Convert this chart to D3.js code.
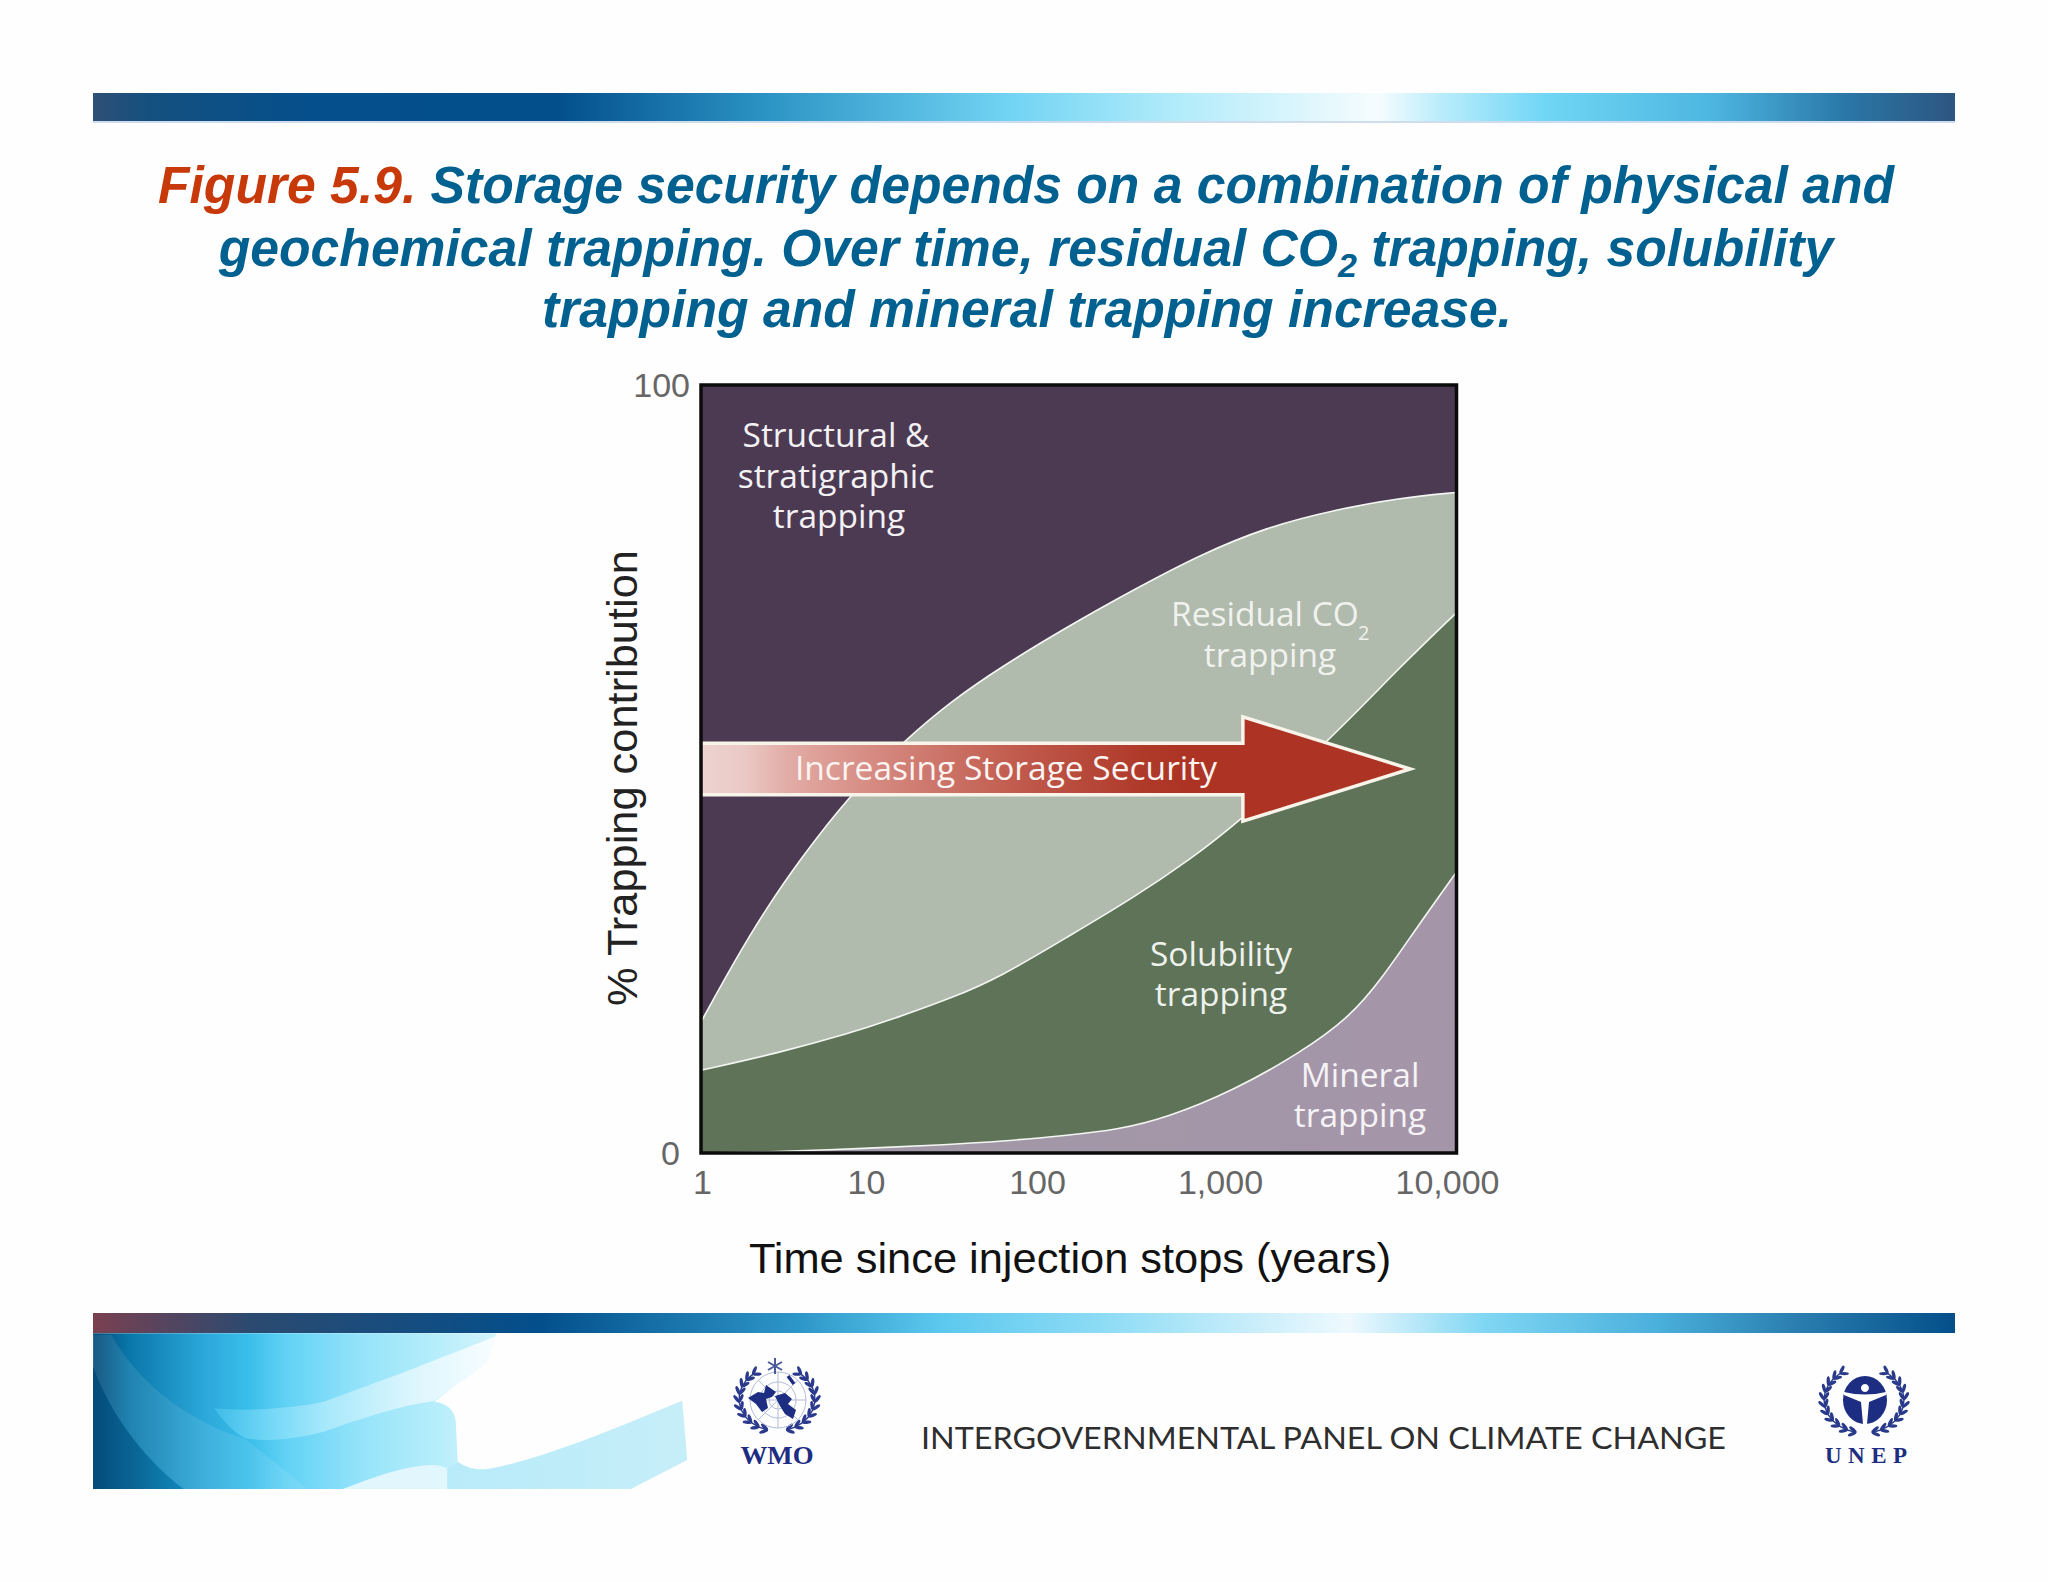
<!DOCTYPE html>
<html><head><meta charset="utf-8">
<script src="https://cdn.jsdelivr.net/npm/d3@7"></script>
<style>html,body{margin:0;padding:0;background:#fefefe}svg{display:block}</style>
</head><body><svg id="c" width="2048" height="1582"></svg>
<script>
// ---- data ----
const xTicks = [1, 10, 100, 1000, 10000];
const yTicks = [0, 100];
const residualTopYears = [1, 1.55, 2.49, 3.96, 7.66, 16.9, 32.3, 60.8, 146, 335, 778, 1580, 3010, 5790, 10000];
const residualTopPct   = [17.3, 24.7, 32, 38.2, 46.2, 53.8, 59, 63.2, 68.5, 73.3, 77.9, 81.5, 83.7, 85.3, 86];
const solubilityTopYears = [1, 2.9, 8, 13.8, 32, 60.8, 146, 335, 685, 1190, 2930, 5790, 10000];
const solubilityTopPct   = [10.8, 13, 15.6, 17.3, 20.2, 22.9, 28.1, 33.2, 38.2, 43, 53.8, 63.3, 70.3];
const mineralTopYears = [1, 2.3, 10.3, 30, 60.8, 146, 273, 514, 1135, 2180, 3560, 4900, 6840, 10000];
const mineralTopPct   = [0, 0.1, 0.6, 1.1, 1.5, 2.3, 3, 4.6, 8.1, 13, 17.7, 22.9, 29.4, 36.5];
const arrowYears = [1, 1250, 1250, 6400, 1250, 1250, 1];
const arrowPct   = [53.35, 53.35, 56.8, 50, 43.2, 46.65, 46.65];

const svg = d3.select("#c");
const defs = svg.append("defs");
function grad(id, stops, x1=0, x2=1){
  const g = defs.append("linearGradient").attr("id", id).attr("x1", x1).attr("x2", x2).attr("y1",0).attr("y2",0);
  stops.forEach(s => g.append("stop").attr("offset", s[0]).attr("stop-color", s[1]));
}
svg.append("rect").attr("width",2048).attr("height",1582).attr("fill","#fefefe");

// ---- header and footer bands ----
grad("topBar", [[0,"#2f4f76"],[0.03,"#14507f"],[0.12,"#044f8c"],[0.25,"#034f8c"],[0.36,"#2b93c4"],[0.49,"#70d3f3"],[0.58,"#b0ebfa"],[0.69,"#f6fcfe"],[0.725,"#b8ecfb"],[0.78,"#70d6f5"],[0.87,"#4db6e0"],[0.94,"#2a78a8"],[1,"#2d5580"]]);
grad("lowBar", [[0,"#7a4050"],[0.085,"#2b4a70"],[0.24,"#034f8c"],[0.378,"#2d96c8"],[0.455,"#5cc8ee"],[0.544,"#8edcf5"],[0.674,"#eef9fe"],[0.748,"#7fd6f3"],[0.84,"#4ab0dc"],[0.914,"#2a7fb0"],[1,"#044f8a"]]);
svg.append("rect").attr("x",93).attr("y",93).attr("width",1862).attr("height",28).attr("fill","url(#topBar)");
svg.append("rect").attr("x",93).attr("y",121).attr("width",1862).attr("height",2).attr("fill","#cfdcec");
svg.append("rect").attr("x",93).attr("y",1313).attr("width",1862).attr("height",20).attr("fill","url(#lowBar)");

grad("bandBody", [[0,"#034a78"],[0.09,"#0a77aa"],[0.28,"#2ca9da"],[0.38,"#38bdea"],[0.48,"#62d2f5"],[0.67,"#96e4fa"],[0.86,"#b8eefb"],[1,"#d4f4fc"]]);
grad("bandSwoosh", [[0,"#3fbdea"],[0.2,"#74d8f7"],[0.4,"#a8e9fb"],[0.7,"#dcf6fd"],[1,"#f8fdff"]]);
grad("bandRight", [[0,"#b8ebf9"],[1,"#c6eef9"]]);
grad("bandCorner", [[0,"#034a78"],[1,"#1187b9"]]);
const band = svg.append("g").attr("transform","translate(90,1330) scale(0.3891,0.3333)");
band.append("path").attr("fill","url(#bandBody)")
  .attr("d","M8,10 L1045,10 L1000,110 L885,215 Q935,222 940,275 L945,395 L918,412 L918,477 L650,477 L8,477 Z");
band.append("path").attr("fill","#ffffff").attr("opacity",0.09)
  .attr("d","M8,15 L55,15 C110,130 220,260 400,328 L560,477 L240,477 C120,370 40,220 8,110 Z");
band.append("path").attr("fill","url(#bandCorner)")
  .attr("d","M8,110 C40,220 120,370 240,477 L8,477 Z");
band.append("path").attr("fill","url(#bandSwoosh)")
  .attr("d","M320,235 C400,245 520,235 600,215 L800,130 L1045,18 L1020,100 L885,213 C800,225 700,265 600,305 C520,330 440,335 400,325 C370,310 340,270 320,235 Z");
band.append("path").attr("fill","#e2f7fd")
  .attr("d","M650,477 C730,440 820,405 880,405 Q918,408 918,420 L918,477 Z");
band.append("path").attr("fill","url(#bandRight)")
  .attr("d","M918,477 L918,412 L945,395 Q975,420 1015,418 C1150,395 1380,280 1522,212 L1535,390 L1390,477 Z");

// ---- title ----
const title = svg.append("g").attr("font-family","'Liberation Sans'").attr("font-weight",700).attr("font-style","italic").attr("font-size",51.65).attr("text-anchor","middle");
const l1 = title.append("text").attr("x",1026).attr("y",203);
l1.append("tspan").attr("fill","#c8390a").text("Figure 5.9. ");
l1.append("tspan").attr("fill","#00608f").text("Storage security depends on a combination of physical and");
const l2 = title.append("text").attr("x",1026).attr("y",266).attr("fill","#00608f");
l2.append("tspan").text("geochemical trapping. Over time, residual CO");
l2.append("tspan").attr("font-size",34).attr("dy",11).text("2");
l2.append("tspan").attr("dy",-11).text(" trapping, solubility");
title.append("text").attr("x",1027).attr("y",327).attr("fill","#00608f").text("trapping and mineral trapping increase.");

// ---- scales ----
const L = 702, R = 1456, T = 385, B = 1153;
const x = d3.scaleLog().domain(xTicks).range([L, 866, 1037, 1220, R]);
const y = d3.scaleLinear().domain([0,100]).range([B,T]);

// ---- stacked regions ----
defs.append("clipPath").attr("id","plot").append("rect").attr("x",L-2).attr("y",T).attr("width",R-L+2).attr("height",B-T);
const plot = svg.append("g").attr("clip-path","url(#plot)");
plot.append("rect").attr("x",L-2).attr("y",T).attr("width",R-L+2).attr("height",B-T).attr("fill","#4b3a52");
grad("mineralFill", [[0,"#9f99a6"],[1,"#a595a9"]]);
const curve = d3.curveBasis;
const area = d3.area().x(d=>x(d[0])).y0(B).y1(d=>y(d[1])).curve(curve);
const line = d3.line().x(d=>x(d[0])).y(d=>y(d[1])).curve(curve);
[[residualTopYears,residualTopPct,"#b0baad"],
 [solubilityTopYears,solubilityTopPct,"#5f7358"],
 [mineralTopYears,mineralTopPct,"url(#mineralFill)"]].forEach(([ys,ps,col])=>{
  const pts = d3.zip(ys,ps);
  plot.append("path").datum(pts).attr("d",area).attr("fill",col);
  plot.append("path").datum(pts).attr("d",line).attr("fill","none").attr("stroke","#f4f6f2").attr("stroke-width",1.6);
});

// ---- arrow ----
grad("arrowFill", [[0,"#ecd3d0"],[0.06,"#eac9c5"],[0.12,"#e2aca6"],[0.25,"#d5887f"],[0.45,"#c05a4c"],[0.62,"#af3a2a"],[0.68,"#ad3424"],[1,"#ad3424"]]);
const arrowLine = d3.line().x(d=>x(d[0])).y(d=>y(d[1]));
plot.append("path").datum(d3.zip(arrowYears,arrowPct)).attr("d",arrowLine)
  .attr("fill","url(#arrowFill)").attr("stroke","#f8f4ea").attr("stroke-width",3.5);

// ---- frame and axes ----
svg.append("rect").attr("x",L-1).attr("y",T).attr("width",R-L+1.5).attr("height",B-T).attr("fill","none").attr("stroke","#0c0c0c").attr("stroke-width",3.5);
const axX = svg.append("g").attr("transform",`translate(0,${B})`)
  .call(d3.axisBottom(x).tickValues(xTicks).tickFormat(d3.format(",")).tickSize(0));
const axY = svg.append("g").attr("transform",`translate(${L},0)`)
  .call(d3.axisLeft(y).tickValues(yTicks).tickSize(0));
[axX,axY].forEach(a=>{a.select(".domain").remove();
  a.selectAll("text").attr("font-family","'Liberation Sans'").attr("font-size",34).attr("fill","#666666");});
axX.selectAll("text").attr("dy",null).attr("y",41).attr("dx",d=>d===10000?-9:0);
axY.selectAll("text").attr("x",d=>d===0?-22:-12).attr("dy",".35em");

svg.append("text").attr("x",1070).attr("y",1273).attr("text-anchor","middle")
  .attr("font-family","'Liberation Sans'").attr("font-size",43.4).attr("fill","#111").text("Time since injection stops (years)");
svg.append("text").attr("transform","translate(637,778) rotate(-90)").attr("text-anchor","middle")
  .attr("font-family","'Liberation Sans'").attr("font-size",43.4).attr("fill","#222").text("% Trapping contribution");

// ---- region labels ----
function label(lines, fill){
  lines.forEach(([t,px,py])=>svg.append("text").attr("x",px).attr("y",py).attr("text-anchor","middle")
    .attr("font-family","'Open Sans'").attr("font-size",33.5).attr("fill",fill).text(t));
}
label([["Structural &",836,447],["stratigraphic",836,488],["trapping",839,528]],"#f3f1f4");
label([["Residual CO",1265,626],["trapping",1270,667]],"#f0f2ee");
svg.append("text").attr("x",1358).attr("y",640).attr("font-family","'Open Sans'").attr("font-size",20).attr("fill","#f0f2ee").text("2");
label([["Increasing Storage Security",1006,780]],"#fbf4f2");
label([["Solubility",1221,966],["trapping",1221,1006]],"#eef2ec");
label([["Mineral",1360,1087],["trapping",1360,1127]],"#f5f3f6");

// ---- emblems ----
const navy = "#1d2d82";
function wreath(cx,cy,rx,ry,a0,a1,n,col){
  const g = svg.append("g");
  [-1,1].forEach(s=>{
    const pts = d3.range(n+1).map(i=>a0+(a1-a0)*i/n);
    g.append("path").attr("fill","none").attr("stroke",col).attr("stroke-width",1.4)
      .attr("d",d3.line()(pts.map(a=>[cx+s*rx*Math.sin(a),cy+ry*Math.cos(a)])));
    pts.forEach(a=>{
      const px = cx+s*rx*Math.sin(a), py = cy+ry*Math.cos(a);
      const ang = Math.atan2(-ry*Math.sin(a), s*rx*Math.cos(a))*180/Math.PI;
      [-32,32].forEach(o=>{
        const r=(ang+o)*Math.PI/180;
        g.append("ellipse").attr("cx",px+4.2*Math.cos(r)).attr("cy",py+4.2*Math.sin(r))
         .attr("rx",4.6).attr("ry",1.7).attr("fill",col)
         .attr("transform",`rotate(${ang+o} ${px+4.2*Math.cos(r)} ${py+4.2*Math.sin(r)})`);
      });
    });
  });
}
// WMO
wreath(777,1399,38,32,0.25,2.45,9,"#2b3a8c");
const gl = svg.append("g").attr("fill","none").attr("stroke","#b4bbd8").attr("stroke-width",1);
[9,18,28].forEach(r=>gl.append("circle").attr("cx",778).attr("cy",1400).attr("r",r));
d3.range(8).forEach(i=>{const a=i*Math.PI/4;
  gl.append("line").attr("x1",778).attr("y1",1400).attr("x2",778+28*Math.cos(a)).attr("y2",1400+28*Math.sin(a));});
svg.append("path").attr("fill",navy)
  .attr("d","M748,1398 L758,1392 L764,1393 L766,1385 L776,1392 L772,1397 L766,1399 L768,1408 L762,1412 L756,1404 Z M775,1396 L785,1393 L792,1399 L788,1404 L796,1410 L793,1419 L785,1414 L780,1406 Z");
svg.append("path").attr("stroke","#4a5a9a").attr("stroke-width",2).attr("fill","none")
  .attr("d","M775,1358 v16 M768,1362 l14,8 M782,1362 l-14,8");
svg.append("path").attr("stroke",navy).attr("stroke-width",3.5).attr("d","M788,1376 l6,8");
svg.append("text").attr("x",777).attr("y",1464).attr("text-anchor","middle").attr("font-family","'Liberation Serif'").attr("font-weight",700).attr("font-size",25).attr("textLength",73).attr("lengthAdjust","spacingAndGlyphs").attr("fill",navy).text("WMO");
// UNEP
wreath(1864,1400,40,33,0.2,2.5,10,"#2a3a8a");
svg.append("ellipse").attr("cx",1865).attr("cy",1400).attr("rx",22).attr("ry",24).attr("fill",navy);
svg.append("path").attr("fill","#fff")
  .attr("d","M1865,1384 a4,4 0 1 1 -0.1,0 Z M1844,1392 Q1865,1397 1886,1392 L1886,1395 L1869,1402 L1867,1424 h-4 L1861,1402 L1844,1395 Z");
svg.append("text").attr("x",1866).attr("y",1463).attr("text-anchor","middle").attr("font-family","'Liberation Serif'").attr("font-weight",700).attr("font-size",23).attr("textLength",82).attr("lengthAdjust","spacing").attr("fill",navy).text("UNEP");
// IPCC line
svg.append("text").attr("x",921).attr("y",1449).attr("font-family","'Lato'").attr("font-size",30).attr("fill","#2e2e2e").attr("textLength",805).attr("lengthAdjust","spacingAndGlyphs").text("INTERGOVERNMENTAL PANEL ON CLIMATE CHANGE");
</script></body></html>
